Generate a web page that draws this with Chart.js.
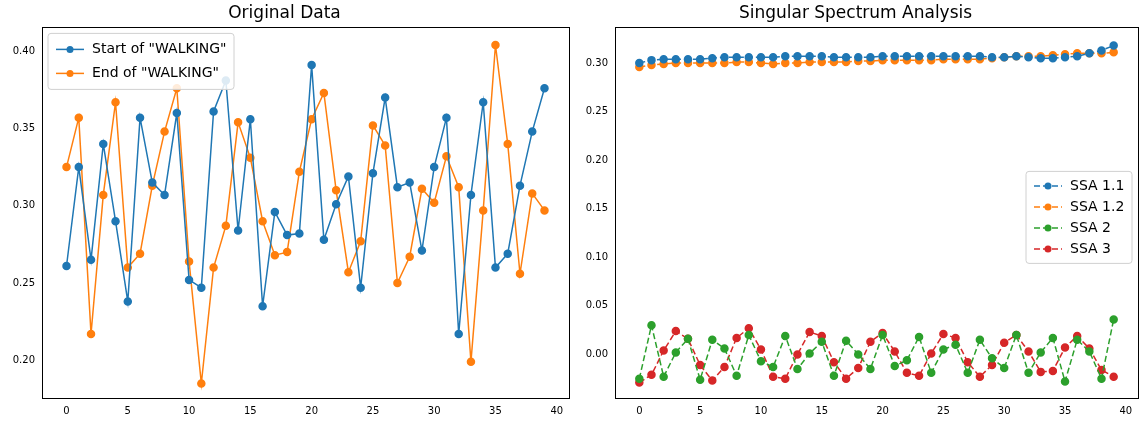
<!DOCTYPE html><html><head><meta charset="utf-8">
<script src="https://cdn.jsdelivr.net/npm/chart.js@4"></script>
<style>body{margin:0;background:#fff;font-family:"DejaVu Sans"}#a{position:absolute;left:0;top:0;width:575px;height:424px}#b{position:absolute;left:573px;top:0;width:571px;height:424px}</style>
</head><body><div id="a"><canvas id="c1"></canvas></div><div id="b"><canvas id="c2"></canvas></div>
<script>
const xIdx = Array.from({length:40},(_,i)=>i);
const startWalking=[0.261,0.325,0.265,0.340,0.290,0.238,0.357,0.315,0.307,0.360,0.252,0.247,0.361,0.381,0.284,0.356,0.235,0.296,0.281,0.282,0.391,0.278,0.301,0.319,0.247,0.321,0.370,0.312,0.315,0.271,0.325,0.357,0.217,0.307,0.367,0.260,0.269,0.313,0.348,0.376];
const endWalking=[0.325,0.357,0.217,0.307,0.367,0.260,0.269,0.313,0.348,0.376,0.264,0.185,0.260,0.287,0.354,0.331,0.290,0.268,0.270,0.322,0.356,0.373,0.310,0.257,0.277,0.352,0.339,0.250,0.267,0.311,0.302,0.332,0.312,0.199,0.297,0.404,0.340,0.256,0.308,0.297];
const ssa11=[0.300,0.303,0.304,0.304,0.304,0.304,0.305,0.306,0.306,0.306,0.306,0.306,0.307,0.307,0.307,0.307,0.306,0.306,0.306,0.306,0.307,0.307,0.307,0.307,0.307,0.307,0.307,0.307,0.307,0.306,0.306,0.307,0.306,0.305,0.305,0.306,0.307,0.310,0.313,0.318];
const ssa12=[0.296,0.298,0.299,0.300,0.300,0.300,0.300,0.300,0.301,0.301,0.300,0.299,0.300,0.300,0.301,0.301,0.301,0.301,0.302,0.302,0.303,0.303,0.303,0.303,0.303,0.304,0.304,0.304,0.304,0.305,0.306,0.307,0.307,0.307,0.308,0.309,0.310,0.310,0.310,0.311];
const ssa2=[-0.025,0.030,-0.023,0.002,0.016,-0.026,0.015,0.006,-0.022,0.020,-0.007,-0.013,0.019,-0.015,0.001,0.013,-0.022,0.014,0.000,-0.015,0.020,-0.012,-0.006,0.018,-0.019,0.005,0.010,-0.019,0.015,-0.004,-0.014,0.020,-0.019,0.002,0.017,-0.028,0.015,0.003,-0.025,0.036];
const ssa3=[-0.029,-0.021,0.004,0.024,0.016,-0.011,-0.027,-0.013,0.017,0.027,0.005,-0.023,-0.025,0.000,0.023,0.019,-0.008,-0.025,-0.014,0.013,0.022,0.003,-0.019,-0.022,0.001,0.021,0.017,-0.008,-0.023,-0.011,0.012,0.020,0.003,-0.018,-0.017,0.007,0.019,0.006,-0.016,-0.023];
const xTicks=[0,5,10,15,20,25,30,35,40];

const pts=d=>d.map((v,i)=>({x:xIdx[i],y:v}));
function ds(label,data,color,dash){return {label,data:pts(data),borderColor:color,backgroundColor:color,pointRadius:3.5,pointHoverRadius:3.5,borderWidth:1.5,borderDash:dash?[6,3]:[],tension:0};}
const frame={id:'fr',afterDraw(ch){const c=ch.ctx,a=ch.chartArea;c.save();c.strokeStyle='#000';c.lineWidth=1;c.strokeRect(Math.round(a.left)+0.5,Math.round(a.top)+0.5,Math.round(a.right-a.left),Math.round(a.bottom-a.top));c.restore();}};
const legendPlugin={id:'ml',afterDraw(ch,a,o){const c=ch.ctx,ca=ch.chartArea;const dss=ch.data.datasets;const lh=o.lh;
 const w=o.w,h=dss.length*lh+8;let x=o.right?ca.right-w-6:ca.left+6;let y=ca.top+o.top;
 c.save();c.fillStyle='rgba(255,255,255,0.85)';c.strokeStyle='#d0d0d0';c.lineWidth=1;c.beginPath();c.roundRect(x,y,w,h,3);c.fill();c.stroke();
 c.font='14px "DejaVu Sans"';c.textBaseline='middle';
 dss.forEach((d,i)=>{const yy=y+4+lh*(i+0.5);c.strokeStyle=d.borderColor;c.lineWidth=1.5;c.setLineDash(d.borderDash);c.beginPath();c.moveTo(x+8,yy);c.lineTo(x+36,yy);c.stroke();c.setLineDash([]);c.fillStyle=d.borderColor;c.beginPath();c.arc(x+22,yy,3.5,0,7);c.fill();c.fillStyle='#000';c.fillText(d.label,x+44,yy);});c.restore();}};
function opts(title,ymin,ymax,leg){return {animation:false,responsive:true,maintainAspectRatio:false,
 layout:{padding:{left:0,right:6,top:0,bottom:4}},
 plugins:{legend:{display:false},tooltip:{enabled:false},title:{display:true,text:title,color:'#000',font:{size:17,family:'DejaVu Sans',weight:'normal'},padding:{top:3,bottom:4}},ml:leg},
 scales:{x:{type:'linear',min:-2,max:41,afterBuildTicks:s=>{s.ticks=xTicks.map(v=>({value:v}));},grid:{display:false,drawTicks:true,tickLength:4,tickColor:'#000'},border:{color:'#000'},ticks:{color:'#000',font:{size:10,family:'DejaVu Sans'},maxRotation:0}},
 y:{min:ymin,max:ymax,afterBuildTicks:s=>{const t=[];for(let v=Math.ceil(ymin/0.05-1e-9)*0.05;v<=ymax+1e-9;v+=0.05)t.push({value:+v.toFixed(2)});s.ticks=t;},afterFit:s=>{s.width=42;},grid:{display:false,drawTicks:true,tickLength:4,tickColor:'#000'},border:{color:'#000'},ticks:{color:'#000',font:{size:10,family:'DejaVu Sans'},callback:v=>v.toFixed(2)}}}};}
const bc=['#1f77b4','#ff7f0e','#2ca02c','#d62728'];
new Chart(c1,{type:'line',data:{datasets:[ds('Start of "WALKING"',startWalking,bc[0]),ds('End of "WALKING"',endWalking,bc[1])]},options:opts('Original Data',0.1756,0.4154,{lh:24,w:186,top:6}),plugins:[frame,legendPlugin]});
new Chart(c2,{type:'line',data:{datasets:[ds('SSA 1.1',ssa11,bc[0],1),ds('SSA 1.2',ssa12,bc[1],1),ds('SSA 2',ssa2,bc[2],1),ds('SSA 3',ssa3,bc[3],1)]},options:opts('Singular Spectrum Analysis',-0.0449,0.3367,{lh:21,w:106,right:1,top:144}),plugins:[frame,legendPlugin]});
</script></body></html>
